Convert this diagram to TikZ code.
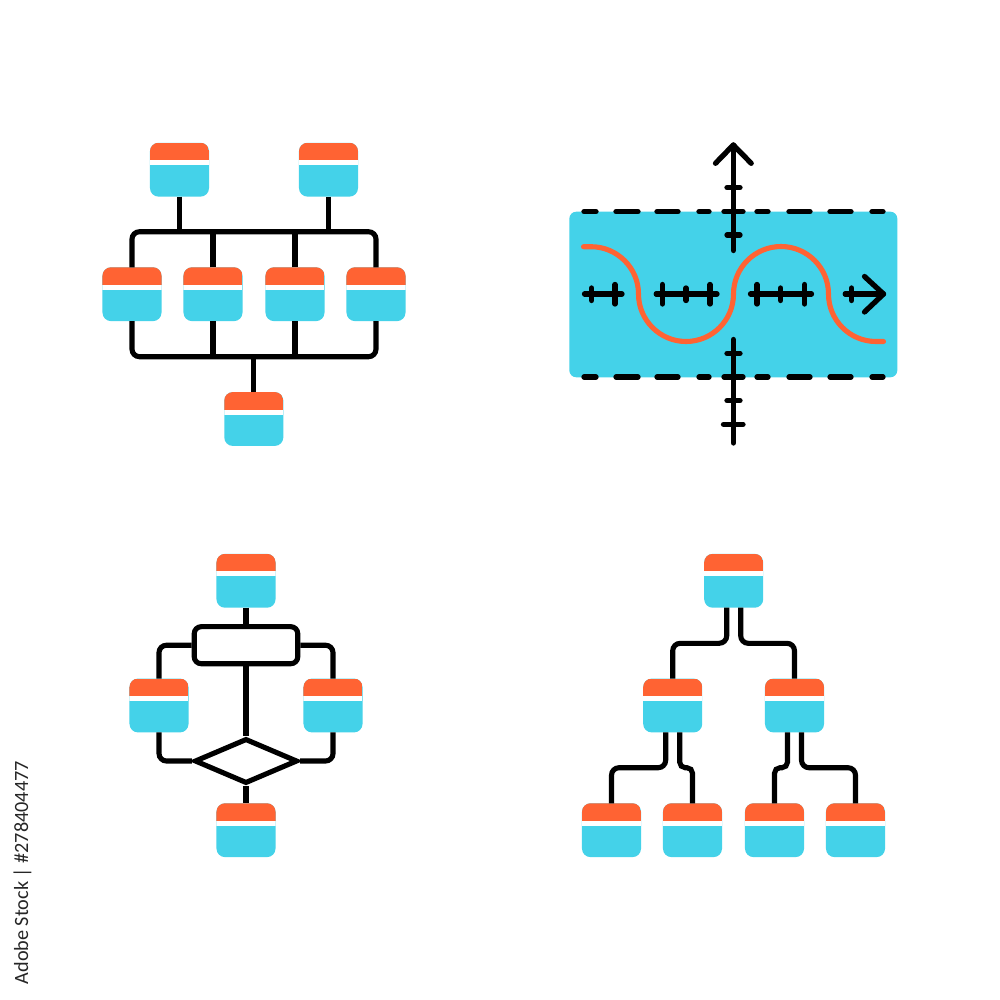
\documentclass[tikz,border=0pt]{standalone}
\usepackage{fontspec}
\setmainfont{Carlito}
\usetikzlibrary{shapes.geometric}
\definecolor{cardorange}{HTML}{FF6333}
\definecolor{cardcyan}{HTML}{44D2E9}
\tikzset{
  x=0.01cm,y=-0.01cm,
  card/.style={rectangle,minimum width=5.9mm,minimum height=5.38mm,inner sep=0pt,outer sep=0pt,
    rounded corners=0.85mm,fill=cardcyan,
    path picture={
      \fill[cardorange,sharp corners] (path picture bounding box.north west) rectangle ([yshift=-1.75mm]path picture bounding box.north east);
      \fill[white,sharp corners] ([yshift=-1.75mm]path picture bounding box.north west) rectangle ([yshift=-2.25mm]path picture bounding box.north east);
    }},
  wire/.style={line width=1.45pt,draw=black,rounded corners=0.75mm},
  procbox/.style={rectangle,draw=black,line width=1.45pt,rounded corners=0.7mm,minimum width=10.35mm,minimum height=3.7mm,inner sep=0pt,fill=white},
  choice/.style={diamond,draw=black,line width=1.45pt,minimum width=10.3mm,minimum height=4.5mm,inner sep=0pt,fill=white},
  axisline/.style={line width=1.5pt,draw=black,line cap=round,line join=round},
  wave/.style={line width=1.45pt,draw=cardorange,line cap=round},
  stamp/.style={rotate=90,font=\fontsize{5.75pt}{6pt}\selectfont,text=black!85,inner sep=0pt}
}
\begin{document}
\begin{tikzpicture}
\useasboundingbox (0,0) rectangle (1000,1000);
\fill[white] (0,0) rectangle (1000,1000);

% --- top left: bus network
\node[card] (a1) at (179.5,169.7) {};
\node[card] (a2) at (328.5,169.7) {};
\node[card] (b1) at (132,294.2) {};
\node[card] (b2) at (213,294.2) {};
\node[card] (b3) at (295,294.2) {};
\node[card] (b4) at (376,294.2) {};
\node[card] (c1) at (253.8,419) {};
\coordinate (bustop) at (0,231.7);
\coordinate (busbot) at (0,356.7);
\draw[wire] (b1.north) -- (b1.north |- bustop) -- (b4.north |- bustop) -- (b4.north);
\draw[wire] (b1.south) -- (b1.south |- busbot) -- (b4.south |- busbot) -- (b4.south);
\draw[wire] (a1.south) -- (a1.south |- bustop);
\draw[wire] (a2.south) -- (a2.south |- bustop);
\draw[wire] (b2.north) -- (b2.north |- bustop);
\draw[wire] (b3.north) -- (b3.north |- bustop);
\draw[wire] (b2.south) -- (b2.south |- busbot);
\draw[wire] (b3.south) -- (b3.south |- busbot);
\draw[wire] (c1.north) -- (c1.north |- busbot);

% --- top right: graph
\fill[cardcyan,rounded corners=0.7mm] (569.3,211.7) rectangle (897.3,377.3);
\foreach \yy in {211.7,377}{
  \foreach \xa/\xb in {584/596,616/638,657/678,699/709,724/743,757/768,789/810,830/851,872/883}{
    \draw[axisline] (\xa,\yy) -- (\xb,\yy);
  }
}
\draw[axisline] (733.3,145) -- (733.3,250.5);
\draw[axisline] (715.5,163.3) -- (733.3,145) -- (751.2,163.3);
\draw[axisline] (727,187.7) -- (740,187.7);
\draw[axisline] (727,235) -- (740,235);
\draw[axisline] (733.3,339.5) -- (733.3,443);
\draw[axisline] (727,353.3) -- (740,353.3);
\draw[axisline] (727,400.7) -- (740,400.7);
\draw[axisline] (723.5,424.3) -- (743,424.3);
\draw[axisline] (584.5,294) -- (622,294);
\draw[axisline] (591.7,288) -- (591.7,300.5);
\draw[axisline] (615,284.5) -- (615,304);
\draw[axisline] (656.2,294) -- (717,294);
\draw[axisline] (662.3,284.5) -- (662.3,304);
\draw[axisline] (686,288) -- (686,300.5);
\draw[axisline] (710,284.5) -- (710,304);
\draw[axisline] (750.5,294) -- (811.5,294);
\draw[axisline] (757,284.5) -- (757,304);
\draw[axisline] (780.7,288) -- (780.7,300.5);
\draw[axisline] (804.7,284.5) -- (804.7,304);
\draw[axisline] (845.2,294) -- (883.5,294);
\draw[axisline] (851.7,288) -- (851.7,300.5);
\draw[axisline] (864.5,276.5) -- (883.5,294) -- (864.5,312);
\draw[wave] (583.5,246.7) -- (591,246.7)
  .. controls (617.2,246.7) and (638.5,268) .. (638.5,294)
  .. controls (638.5,320.2) and (660,341.5) .. (686,341.5)
  .. controls (712.2,341.5) and (733.5,320.2) .. (733.5,294)
  .. controls (733.5,267.8) and (754.8,246.5) .. (781,246.5)
  .. controls (807.2,246.5) and (828.5,267.8) .. (828.5,294)
  .. controls (828.5,320.2) and (849.8,341.5) .. (876,341.5) -- (883.5,341.5);

% --- bottom left: flowchart
\node[card] (f1) at (246,580.8) {};
\node[card] (f2) at (159,705.5) {};
\node[card] (f3) at (333,705.5) {};
\node[card] (f4) at (246,830.2) {};
\node[procbox] (p) at (246,645.2) {};
\node[choice] (d) at (246,761) {};
\draw[wire] (f1.south) -- (p.north);
\draw[wire] (p.south) -- (d.north);
\draw[wire] (d.south) -- (f4.north);
\draw[wire] (p.west) -- (f2.north |- p.west) -- (f2.north);
\draw[wire] (p.east) -- (f3.north |- p.east) -- (f3.north);
\draw[wire] (f2.south) -- (f2.south |- d.west) -- (d.west);
\draw[wire] (f3.south) -- (f3.south |- d.east) -- (d.east);

% --- bottom right: tree
\node[card] (t0) at (733.7,580.8) {};
\node[card] (t1) at (672.7,705.5) {};
\node[card] (t2) at (794.5,705.5) {};
\node[card] (l1) at (611.5,830.2) {};
\node[card] (l2) at (692.5,830.2) {};
\node[card] (l3) at (774.5,830.2) {};
\node[card] (l4) at (855.5,830.2) {};
\coordinate (ja) at (0,643.3);
\coordinate (jb) at (0,767.7);
\draw[wire] ([xshift=-0.7mm]t0.south) -- ([xshift=-0.7mm]t0.south |- ja) -- (t1.north |- ja) -- (t1.north);
\draw[wire] ([xshift=0.7mm]t0.south) -- ([xshift=0.7mm]t0.south |- ja) -- (t2.north |- ja) -- (t2.north);
\draw[wire] ([xshift=-0.7mm]t1.south) -- ([xshift=-0.7mm]t1.south |- jb) -- (l1.north |- jb) -- (l1.north);
\draw[wire,rounded corners=0.55mm] ([xshift=0.7mm]t1.south) -- ([xshift=0.7mm]t1.south |- jb) -- (l2.north |- jb) -- (l2.north);
\draw[wire,rounded corners=0.55mm] ([xshift=-0.7mm]t2.south) -- ([xshift=-0.7mm]t2.south |- jb) -- (l3.north |- jb) -- (l3.north);
\draw[wire] ([xshift=0.7mm]t2.south) -- ([xshift=0.7mm]t2.south |- jb) -- (l4.north |- jb) -- (l4.north);

% --- margin line
\node[stamp,anchor=base west] (mark) at (28,985) {Adobe Stock | \#278404477};
\end{tikzpicture}
\end{document}
